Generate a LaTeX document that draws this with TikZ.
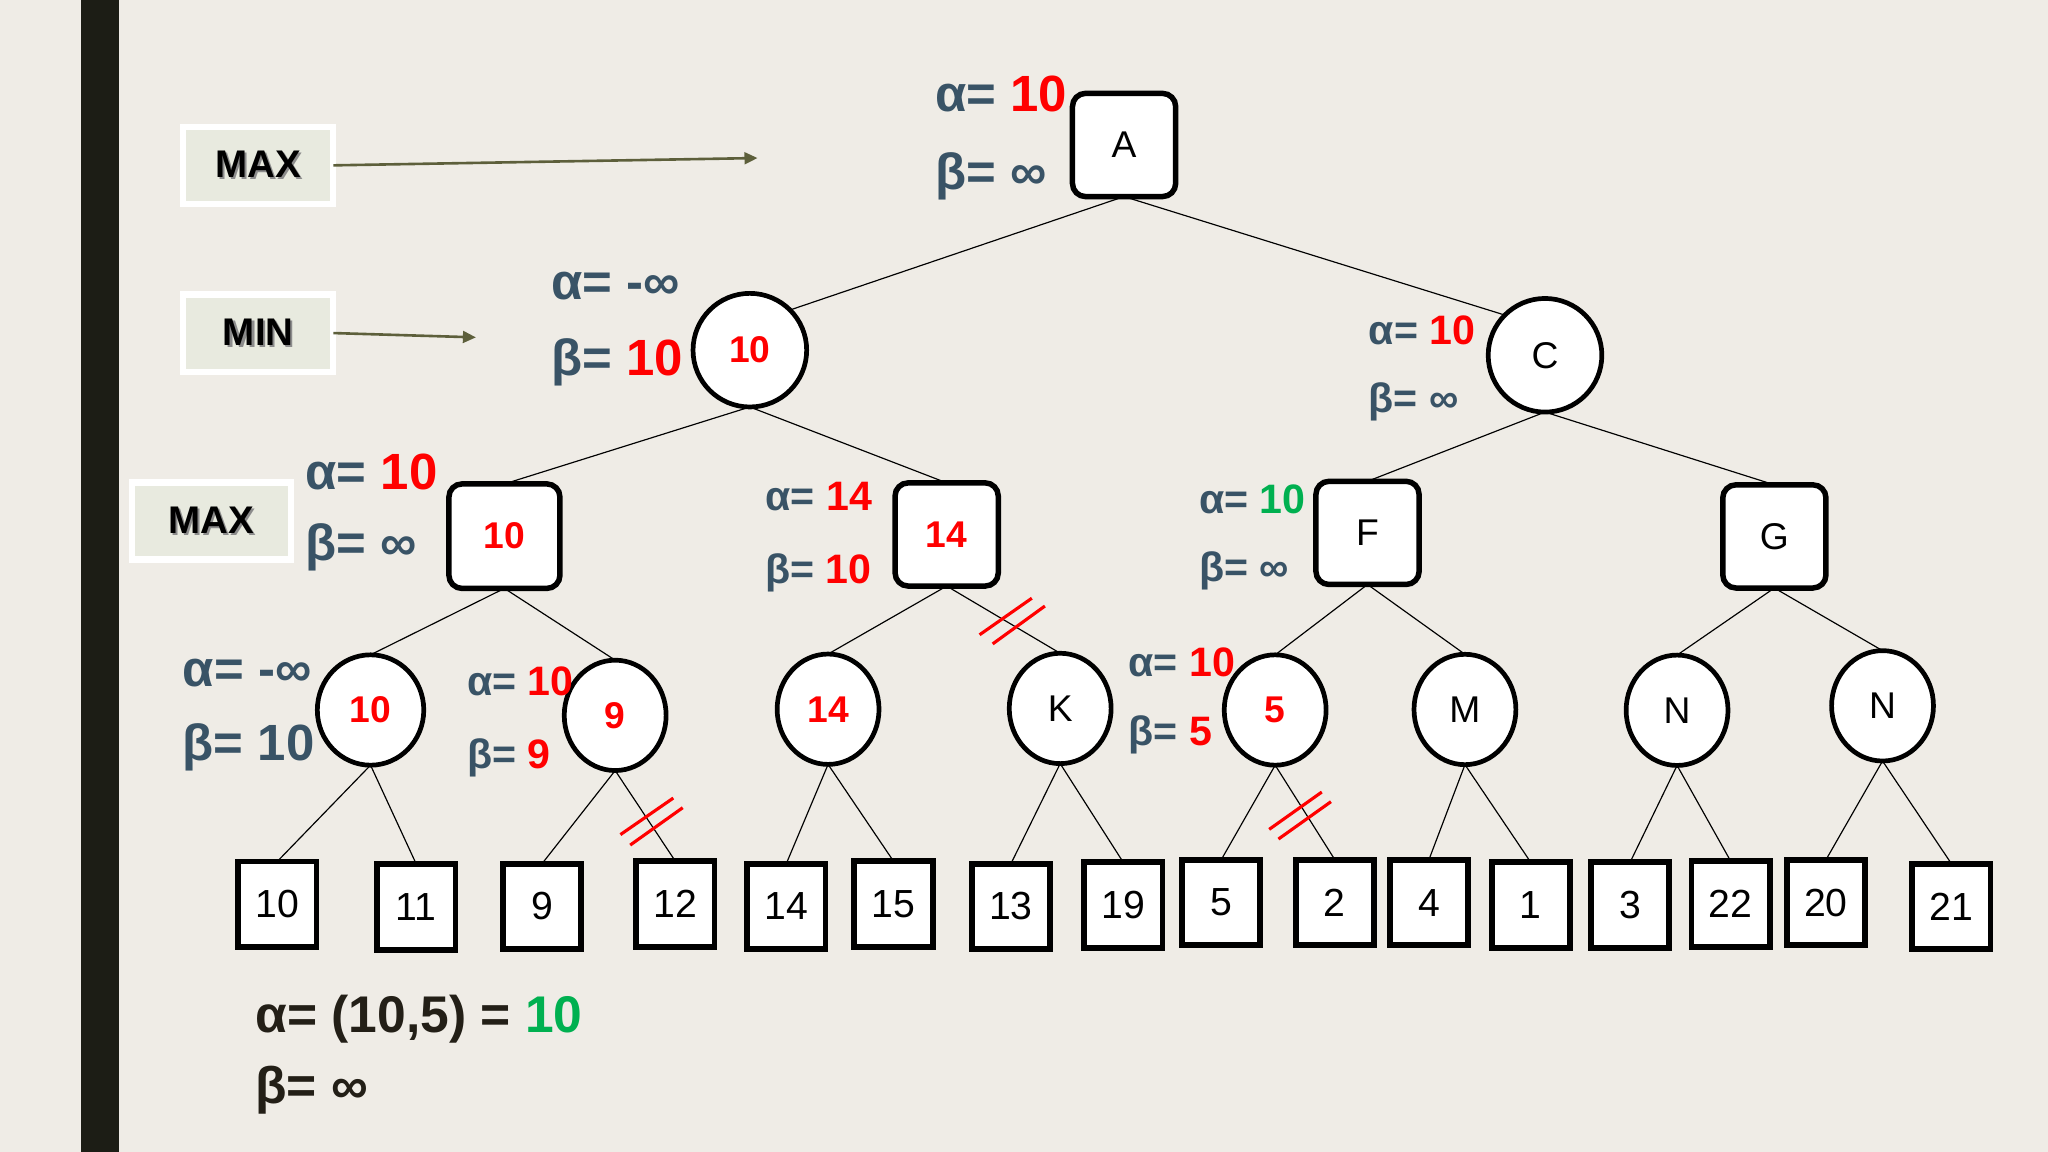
\documentclass[tikz,border=0pt]{standalone}
\usepackage{fontspec}
\usepackage{graphicx}
\setmainfont{Liberation Sans}
\usetikzlibrary{shapes.geometric,arrows.meta}
\definecolor{bgc}{HTML}{EFECE6}
\definecolor{barc}{HTML}{1C1D15}
\definecolor{slate}{HTML}{395366}
\definecolor{redc}{HTML}{FF0000}
\definecolor{greenc}{HTML}{00B050}
\definecolor{olivec}{HTML}{5D5F3B}
\definecolor{boxfill}{HTML}{E8EADF}
\definecolor{darktxt}{HTML}{231F17}
\newcommand\fsL{\fontsize{39}{44}\selectfont}
\newcommand\fsS{\fontsize{31.5}{36}\selectfont}
\newcommand\fsB{\fontsize{39.5}{44}\selectfont}
\newcommand\fsN{\fontsize{28.5}{32}\selectfont}
\newcommand\fsLeaf{\fontsize{30}{34}\selectfont}
\newcommand\fsT{\fontsize{29.5}{34}\selectfont}
\newcommand\shtext[1]{\makebox[0pt][l]{\hspace{1.6pt}\raisebox{-1.6pt}{\textcolor{black!45}{#1}}}#1}
\begin{document}
\begin{tikzpicture}[x=1pt,y=-1pt,
  every node/.style={inner sep=0pt, outer sep=0pt},
  maxnode/.style={rectangle, draw=black, fill=white, line width=4.2pt, rounded corners=10pt, minimum width=79pt, minimum height=79pt, font=\fsN},
  minnode/.style={ellipse, draw=black, fill=white, line width=3.6pt, minimum width=78pt, minimum height=84.5pt, font=\fsN},
  bigmin/.style={minnode, minimum width=87pt, minimum height=87pt},
  leafnode/.style={rectangle, draw=black, fill=white, line width=4.5pt, minimum width=60pt, minimum height=65.5pt, font=\fsLeaf},
  redval/.style={text=redc, font=\fsN\bfseries},
  tedge/.style={draw=black, line width=0.9pt},
  cutmark/.style={draw=redc, line width=2.4pt},
  lab/.style={anchor=base west, text=slate, font=\fsL\bfseries},
  labs/.style={anchor=base west, text=slate, font=\fsS\bfseries},
  tagbox/.style={rectangle, draw=white, fill=boxfill, line width=4.7pt, minimum width=115pt, minimum height=59pt, font=\fsT\bfseries},
  arr/.style={draw=olivec, line width=2pt, -{Triangle[length=10pt,width=9pt]}}
]
\fill[bgc] (0,0) rectangle (1568,882);
\useasboundingbox (0,0) rectangle (1568,882);
\fill[barc] (62,0) rectangle (91,882);

% side tags
\node[tagbox] (tmax1) at (197.7,126.6) {\shtext{MAX}};
\node[tagbox] (tmin) at (197.7,255) {\shtext{MIN}};
\node[tagbox, minimum width=122pt] (tmax2) at (162,398.9) {\shtext{MAX}};
\coordinate (tip1) at (580,121);
\coordinate (tip2) at (364.4,258.3);
\draw[arr] (tmax1.east) -- (tip1);
\draw[arr] (tmin.east) -- (tip2);

% tree nodes
\node[maxnode] (A) at (860.6,111) {A};
\node[bigmin, redval] (B) at (574.1,268.1) {10};
\node[bigmin] (C) at (1182.9,272) {C};
\node[maxnode, redval, minimum width=85pt, minimum height=80pt] (D) at (386.2,410.5) {10};
\node[maxnode, redval] (E) at (724.8,409.2) {14};
\node[maxnode] (F) at (1047,408) {F};
\node[maxnode] (G) at (1358.5,410.7) {G};
\node[minnode, redval, minimum width=81.5pt] (H1) at (283.7,543.6) {10};
\node[minnode, redval] (H2) at (471,547.7) {9};
\node[minnode, redval] (H3) at (634,543) {14};
\node[minnode] (K) at (811.7,542.4) {K};
\node[minnode, redval] (H5) at (976.3,543.6) {5};
\node[minnode] (M) at (1121.6,543.2) {M};
\node[minnode] (N1) at (1284,543.8) {N};
\node[minnode] (N2) at (1441.3,540.4) {N};

\node[leafnode] (L1) at (212.3,692.3) {10};
\node[leafnode] (L2) at (318.7,694.3) {11};
\node[leafnode] (L3) at (415,694) {9};
\node[leafnode] (L4) at (517,692) {12};
\node[leafnode] (L5) at (602,694) {14};
\node[leafnode] (L6) at (684,692) {15};
\node[leafnode] (L7) at (774,694) {13};
\node[leafnode] (L8) at (860,693) {19};
\node[leafnode] (L9) at (935,691) {5};
\node[leafnode] (L10) at (1022,691) {2};
\node[leafnode] (L11) at (1094,691) {4};
\node[leafnode] (L12) at (1172,693) {1};
\node[leafnode] (L13) at (1248,693) {3};
\node[leafnode] (L14) at (1325,692) {22};
\node[leafnode] (L15) at (1398,691) {20};
\node[leafnode] (L16) at (1494,694) {21};

% edges
\draw[tedge] (A.south) -- (B.45);
\draw[tedge] (A.south) -- (C.135);
\draw[tedge] (B.south) -- (D.north);
\draw[tedge] (B.south) -- (E.north);
\draw[tedge] (C.south) -- (F.north);
\draw[tedge] (C.south) -- (G.north);
\draw[tedge] (D.south) -- (H1.north);
\draw[tedge] (D.south) -- (H2.north);
\draw[tedge] (E.south) -- (H3.north);
\draw[tedge] (E.south) -- (K.north);
\draw[tedge] (F.south) -- (H5.north);
\draw[tedge] (F.south) -- (M.north);
\draw[tedge] (G.south) -- (N1.north);
\draw[tedge] (G.south) -- (N2.north);
\draw[tedge] (H1.south) -- (L1.north);
\draw[tedge] (H1.south) -- (L2.north);
\draw[tedge] (H2.south) -- (L3.north);
\draw[tedge] (H2.south) -- (L4.north);
\draw[tedge] (H3.south) -- (L5.north);
\draw[tedge] (H3.south) -- (L6.north);
\draw[tedge] (K.south) -- (L7.north);
\draw[tedge] (K.south) -- (L8.north);
\draw[tedge] (H5.south) -- (L9.north);
\draw[tedge] (H5.south) -- (L10.north);
\draw[tedge] (M.south) -- (L11.north);
\draw[tedge] (M.south) -- (L12.north);
\draw[tedge] (N1.south) -- (L13.north);
\draw[tedge] (N1.south) -- (L14.north);
\draw[tedge] (N2.south) -- (L15.north);
\draw[tedge] (N2.south) -- (L16.north);

% pruning marks
\draw[cutmark] (750,486) -- (790,458);
\draw[cutmark] (760,493) -- (800,464);
\draw[cutmark] (475,639) -- (515.5,611);
\draw[cutmark] (482.5,647) -- (522.7,618.4);
\draw[cutmark] (971.7,635) -- (1012,606.4);
\draw[cutmark] (978.8,642.4) -- (1019,613.8);

% alpha / beta labels
\node[lab] (aA) at (716,85.5) {α= \textcolor{redc}{10}};
\node[lab] (bA) at (716,144.8) {β= ∞};
\node[lab] (aB) at (422,229) {α= -∞};
\node[lab] (bB) at (422,287.6) {β= \textcolor{redc}{10}};
\node[labs] (aC) at (1048,263.7) {α= \textcolor{redc}{10}};
\node[labs] (bC) at (1048,316) {β= ∞};
\node[lab] (aD) at (234,374.4) {α= \textcolor{redc}{10}};
\node[lab] (bD) at (234,429) {β= ∞};
\node[labs] (aE) at (586,390.5) {α= \textcolor{redc}{14}};
\node[labs] (bE) at (586,446.6) {β= \textcolor{redc}{10}};
\node[labs] (aF) at (918,393) {α= \textcolor{greenc}{10}};
\node[labs] (bF) at (918,445) {β= ∞};
\node[lab] (aH1) at (140,525.8) {α= -∞};
\node[lab] (bH1) at (140,582.4) {β= 10};
\node[labs] (aH2) at (357.6,532.2) {α= \textcolor{redc}{10}};
\node[labs] (bH2) at (357.6,588.3) {β= \textcolor{redc}{9}};
\node[labs] (aH5) at (864,518) {α= \textcolor{redc}{10}};
\node[labs] (bH5) at (864,571) {β= \textcolor{redc}{5}};
\node[lab, text=darktxt, font=\fsB\bfseries] (res1) at (195.5,790.7) {α= (10,5) = \textcolor{greenc}{10}};
\node[lab, text=darktxt, font=\fsB\bfseries] (res2) at (195.5,845) {β= ∞};
\end{tikzpicture}
\end{document}
